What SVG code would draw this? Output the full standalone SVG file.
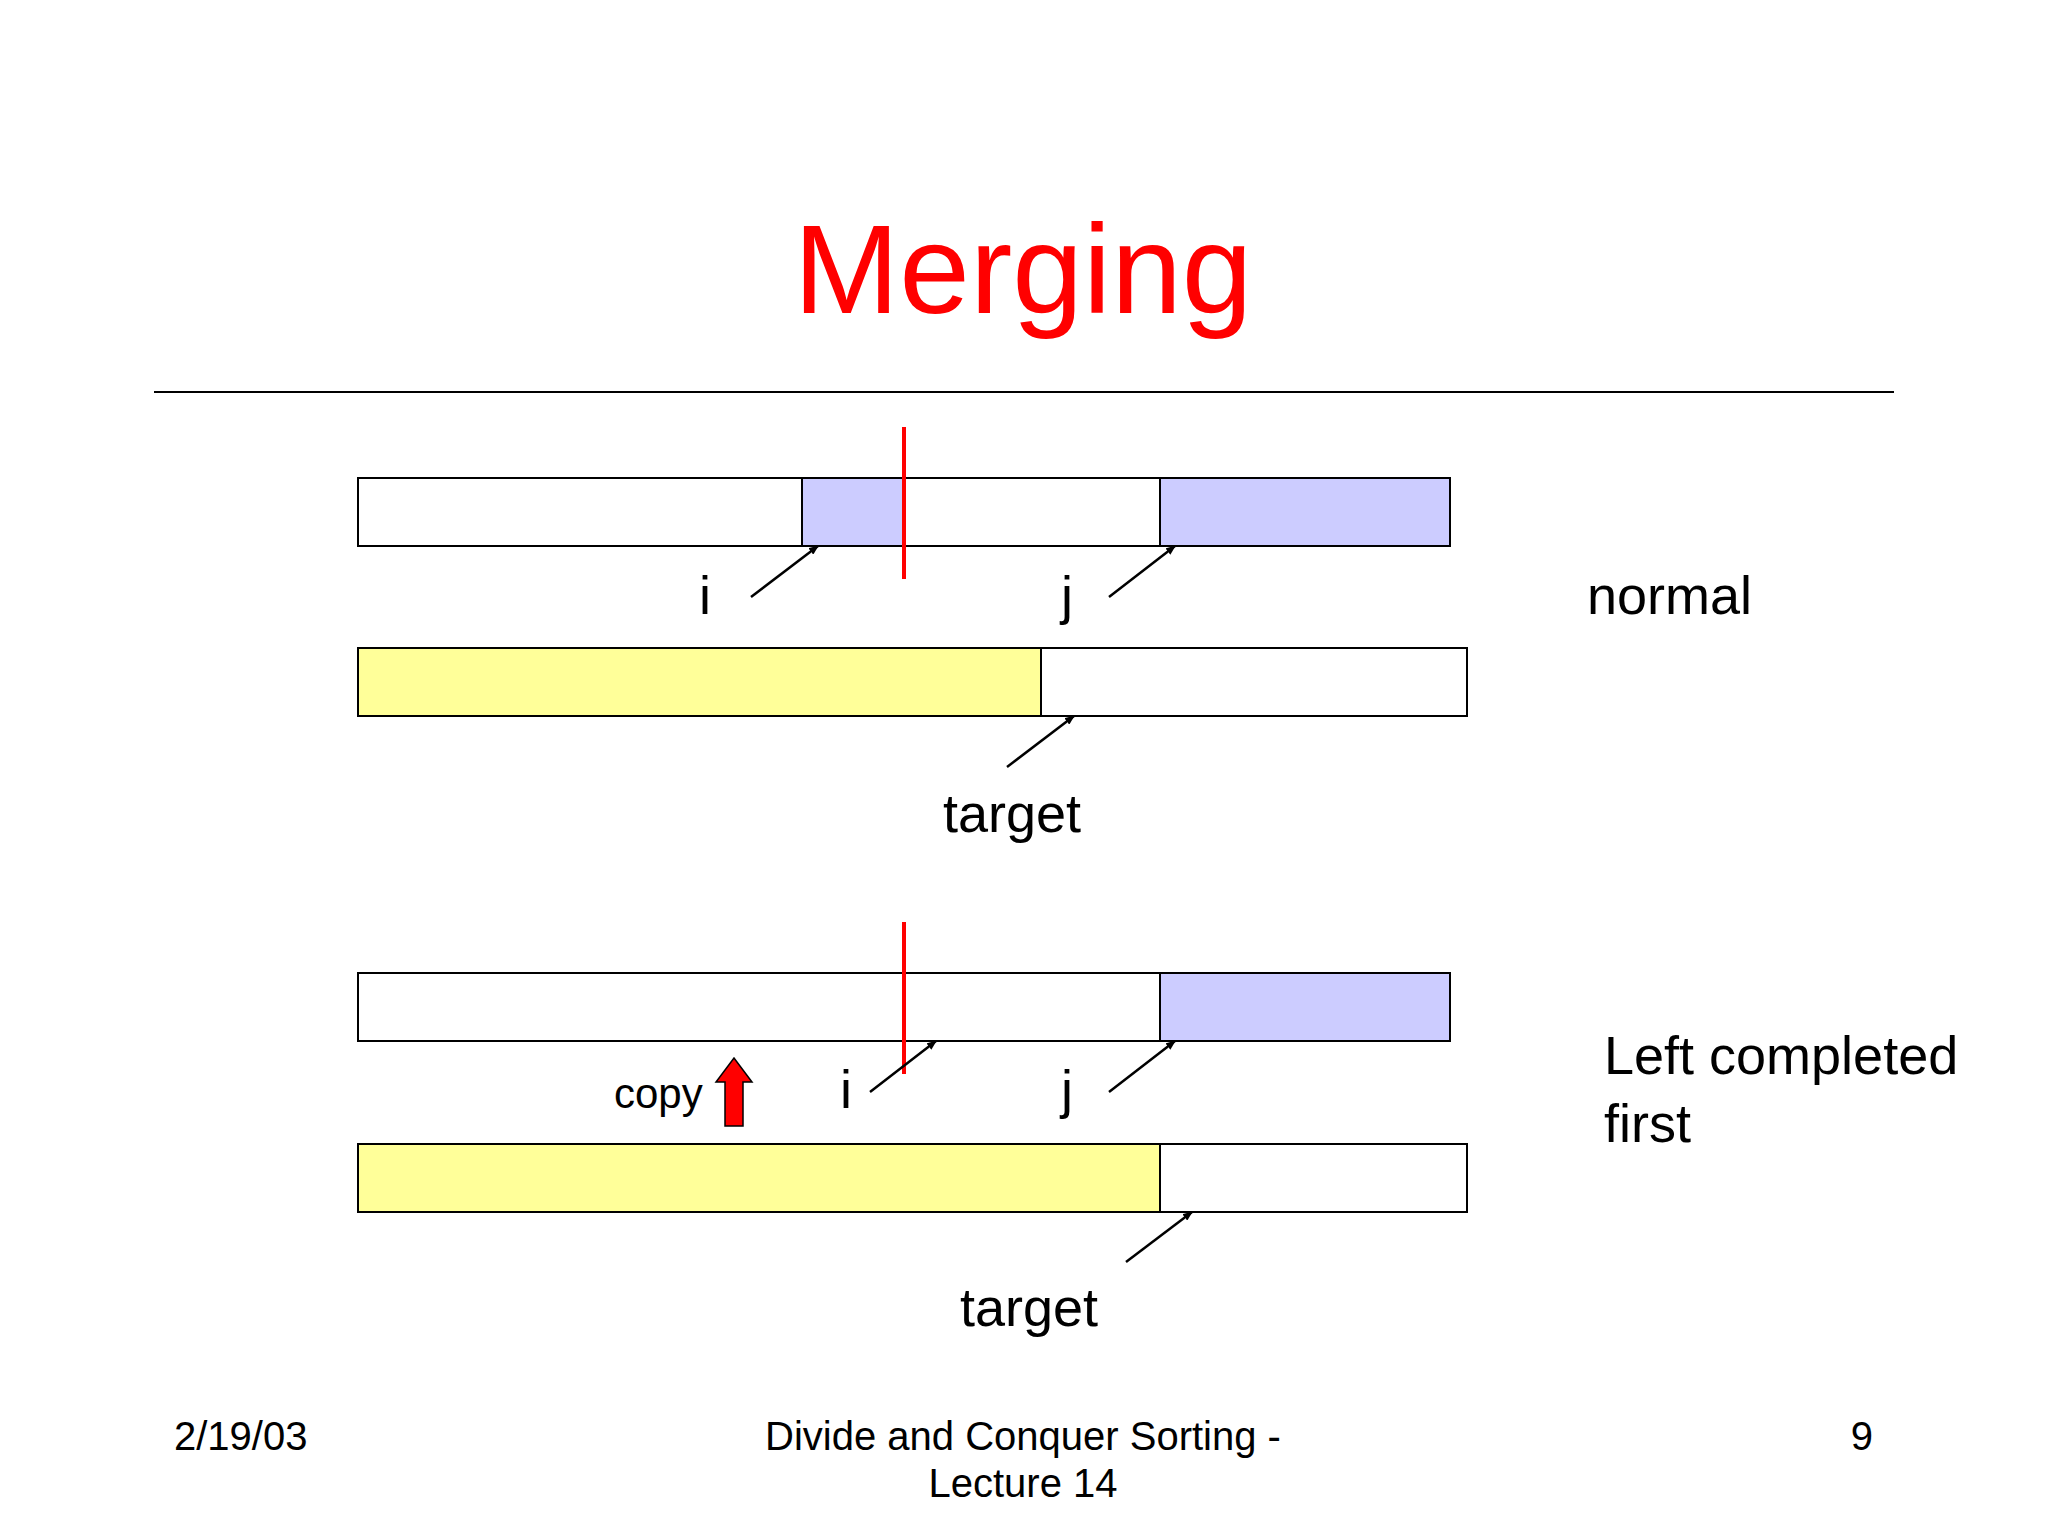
<svg xmlns="http://www.w3.org/2000/svg" width="2048" height="1536" viewBox="0 0 2048 1536">
<defs>
<marker id="ah" markerWidth="10" markerHeight="8" refX="9" refY="4" orient="auto" markerUnits="userSpaceOnUse"><path d="M0,0 L10,4 L0,8 z" fill="#000"/></marker>
<style>
text{font-family:"Liberation Sans",Arial,sans-serif;fill:#000}
.bar{stroke:#000;stroke-width:2}
.w{fill:#fff}.b{fill:#ccccff}.y{fill:#ffff99}
.lbl{font-size:54px}
.ptr{stroke:#000;stroke-width:2.5;marker-end:url(#ah)}
.red{stroke:#ff0000;stroke-width:4}
.ft{font-size:40px}
</style>
</defs>
<rect width="2048" height="1536" fill="#fff"/>
<text x="1023" y="313" font-size="127" text-anchor="middle" style="fill:#ff0000">Merging</text>
<line x1="154" y1="392" x2="1894" y2="392" stroke="#000" stroke-width="2"/>
<g id="row1">
<rect class="bar w" x="358" y="478" width="1092" height="68"/>
<rect class="bar b" x="802" y="478" width="102" height="68"/>
<rect class="bar b" x="1160" y="478" width="290" height="68"/>
</g>
<g id="row2">
<rect class="bar w" x="358" y="648" width="1109" height="68"/>
<rect class="bar y" x="358" y="648" width="683" height="68"/>
</g>
<g id="row3">
<rect class="bar w" x="358" y="973" width="1092" height="68"/>
<rect class="bar b" x="1160" y="973" width="290" height="68"/>
</g>
<g id="row4">
<rect class="bar w" x="358" y="1144" width="1109" height="68"/>
<rect class="bar y" x="358" y="1144" width="802" height="68"/>
</g>
<g id="connectors">
<line class="red" x1="904" y1="427" x2="904" y2="579"/>
<line class="red" x1="904" y1="922" x2="904" y2="1074"/>
<line class="ptr" x1="751" y1="597" x2="818" y2="546"/>
<line class="ptr" x1="1109" y1="597" x2="1175" y2="546"/>
<line class="ptr" x1="1007" y1="767" x2="1074" y2="716"/>
<line class="ptr" x1="870" y1="1092" x2="936" y2="1041"/>
<line class="ptr" x1="1109" y1="1092" x2="1175" y2="1041"/>
<line class="ptr" x1="1126" y1="1262" x2="1192" y2="1212"/>
<path d="M725,1126 L725,1082 L716,1082 L734,1058 L752,1082 L743,1082 L743,1126 z" fill="#ff0000" stroke="#000" stroke-width="1.5"/>
</g>
<g id="labels">
<text class="lbl" x="705" y="614" text-anchor="middle">i</text>
<text class="lbl" x="1067" y="614" text-anchor="middle">j</text>
<text class="lbl" x="1587" y="614">normal</text>
<text class="lbl" x="943" y="832">target</text>
<text class="lbl" x="846" y="1108" text-anchor="middle">i</text>
<text class="lbl" x="1067" y="1108" text-anchor="middle">j</text>
<text x="614" y="1108" font-size="42">copy</text>
<text class="lbl" x="960" y="1326">target</text>
<text class="lbl" x="1604" y="1074">Left completed</text>
<text class="lbl" x="1604" y="1142">first</text>
</g>
<g id="footer">
<text class="ft" x="174" y="1450">2/19/03</text>
<text class="ft" x="1023" y="1450" text-anchor="middle">Divide and Conquer Sorting -</text>
<text class="ft" x="1023" y="1497" text-anchor="middle">Lecture 14</text>
<text class="ft" x="1873" y="1450" text-anchor="end">9</text>
</g>
</svg>
